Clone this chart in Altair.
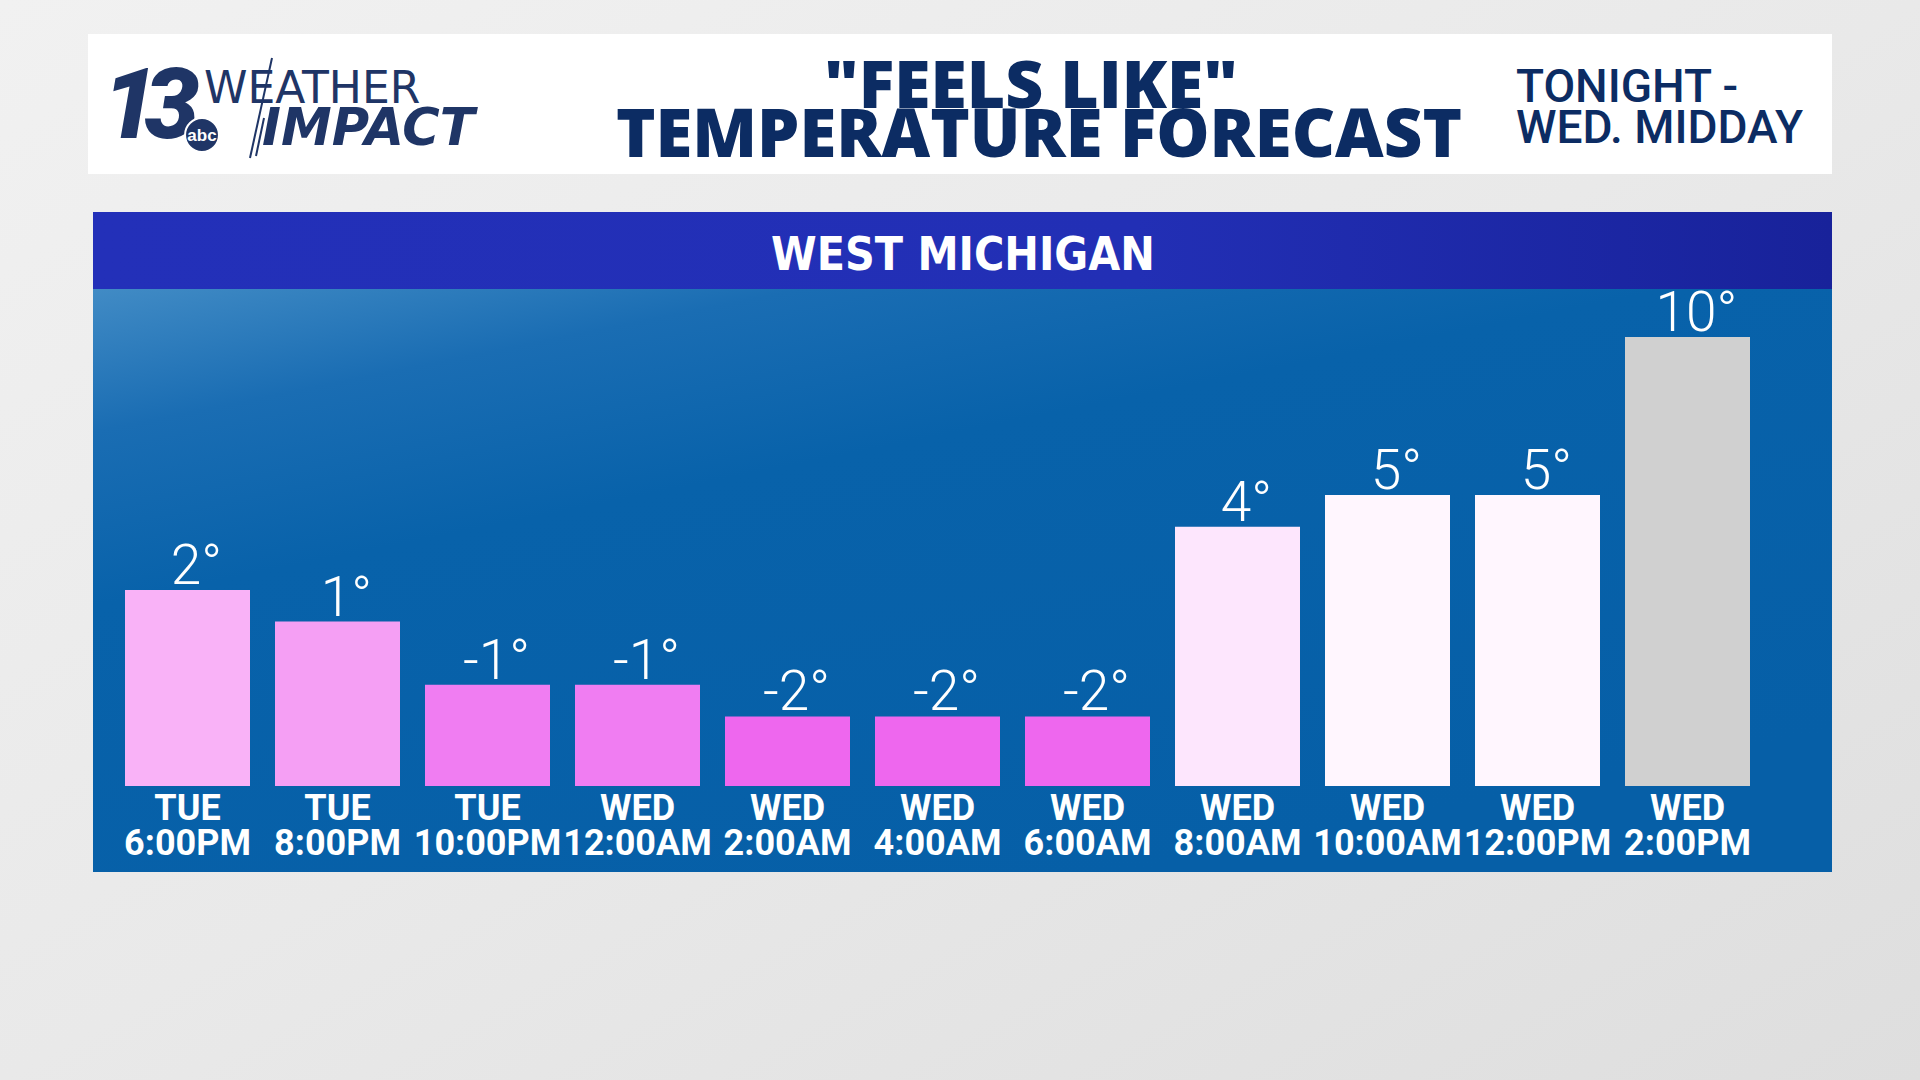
import altair as alt
import pandas as pd

# Forecast slots and "feels like" temperatures (°F)
days = ["TUE", "TUE", "TUE", "WED", "WED", "WED", "WED", "WED", "WED", "WED", "WED"]
times = ["6:00PM", "8:00PM", "10:00PM", "12:00AM", "2:00AM", "4:00AM",
         "6:00AM", "8:00AM", "10:00AM", "12:00PM", "2:00PM"]
feels_like = [2, 1, -1, -1, -2, -2, -2, 4, 5, 5, 10]
bar_colors = ["#f9b2f7", "#f59ff4", "#f07df2", "#f07df2", "#ee67ee", "#ee67ee",
              "#ee67ee", "#fde6fd", "#fff6fe", "#fff6fe", "#d0d0d0"]

df = pd.DataFrame({
    "slot": [f"{d}\n{t}" for d, t in zip(days, times)],
    "temp": feels_like,
    "fill": bar_colors,
})
df["label"] = df["temp"].astype(str) + "°"

W, H = 1920, 1080
NAVY = "#0c2c63"
one = alt.Data(values=[{}])

x_scale = alt.Scale(range=[112.5, 1762.5], paddingInner=25 / 150, paddingOuter=25 / 300)
y_scale = alt.Scale(domain=[-4.2, 10], range=[786, 337], nice=False, zero=False)
x_enc = alt.X("slot:N", sort=None, scale=x_scale, axis=None)


def box(x0, x1, y0, y1, color):
    return alt.Chart(one).mark_rect(color=color).encode(
        x=alt.value(x0), x2=alt.value(x1), y=alt.value(y0), y2=alt.value(y1))


def label(text, x, y, size, weight="normal", font="Roboto", color=NAVY,
          align="center", style="normal"):
    return alt.Chart(one).mark_text(
        text=text, fontSize=size, fontWeight=weight, font=font, color=color,
        align=align, baseline="alphabetic", fontStyle=style,
    ).encode(x=alt.value(x), y=alt.value(y))


background = box(0, W, 0, H, alt.Gradient(
    gradient="linear", x1=0, y1=0, x2=1, y2=1,
    stops=[alt.GradientStop(color="#f1f1f1", offset=0),
           alt.GradientStop(color="#e9e9e9", offset=0.5),
           alt.GradientStop(color="#dedede", offset=1)]))

header = box(88, 1832, 34, 174, "#ffffff")

panel = box(93, 1832, 289, 872, alt.Gradient(
    gradient="linear", x1=0, y1=0, x2=0.6, y2=1,
    stops=[alt.GradientStop(color="#418bc5", offset=0),
           alt.GradientStop(color="#1a6db3", offset=0.18),
           alt.GradientStop(color="#0862aa", offset=0.4),
           alt.GradientStop(color="#065fa7", offset=1)]))

title_bar = box(93, 1832, 212, 289, alt.Gradient(
    gradient="linear", x1=0, y1=0, x2=1, y2=0,
    stops=[alt.GradientStop(color="#2330b9", offset=0),
           alt.GradientStop(color="#222fb5", offset=0.6),
           alt.GradientStop(color="#18229a", offset=1)]))

bars = alt.Chart(df).mark_bar().encode(
    x=x_enc,
    y=alt.Y("temp:Q", scale=y_scale, axis=None),
    y2=alt.datum(-4.2),
    color=alt.Color("fill:N", scale=None),
)

values = alt.Chart(df).mark_text(
    font="Roboto", fontWeight=300, fontSize=55, color="white",
    baseline="alphabetic", dy=-6, dx=9,
).encode(x=x_enc, y=alt.Y("temp:Q", scale=y_scale), text="label:N")

slots = alt.Chart(df).mark_text(
    font="Roboto", fontWeight="bold", fontSize=36, color="white",
    baseline="alphabetic", lineBreak="\n", lineHeight=35,
).encode(x=x_enc, y=alt.value(820), text="slot:N")

region = label("WEST MICHIGAN", 963, 270, 46, "bold",
               font="DejaVu Sans Condensed, sans-serif", color="white")

title1 = label('"FEELS LIKE"', 1031, 108, 66, 800, font="Open Sans")
title2 = label("TEMPERATURE FORECAST", 1039, 157, 67, 800, font="Open Sans")
period1 = label("TONIGHT -", 1516, 102, 46, 500, align="left")
period2 = label("WED. MIDDAY", 1516, 143, 46, 500, align="left")

LOGO = "#1f3566"
logo1 = label("1", 130, 138, 98, 900, color=LOGO, style="italic")
logo3 = label("3", 172, 138, 98, 900, color=LOGO, style="italic")
logo_weather = label("WEATHER", 204, 103, 44, "normal", font="DejaVu Sans",
                     color=LOGO, align="left")
logo_impact = label("IMPACT", 262, 145, 51, "bold", font="DejaVu Sans",
                    color=LOGO, align="left", style="italic")
logo_slash = alt.Chart(one).mark_rule(color=LOGO, strokeWidth=2).encode(
    x=alt.value(272), x2=alt.value(250), y=alt.value(58), y2=alt.value(158))
logo_slash2 = alt.Chart(one).mark_rule(color=LOGO, strokeWidth=2).encode(
    x=alt.value(264), x2=alt.value(256), y=alt.value(118), y2=alt.value(156))
abc_dot = alt.Chart(one).mark_circle(
    color=LOGO, opacity=1, size=1150, stroke="white", strokeWidth=2
).encode(x=alt.value(202), y=alt.value(135))
abc_text = label("abc", 202, 141, 17, "bold", font="Liberation Sans", color="white")

chart = alt.layer(
    background, header, panel, title_bar, bars, values, slots, region,
    title1, title2, period1, period2,
    logo_slash, logo_slash2, logo1, logo3, logo_weather, logo_impact, abc_dot, abc_text,
).properties(
    width=W, height=H,
    autosize=alt.AutoSizeParams(type="none"),
    padding=0,
).configure_view(stroke=None).configure(background="#e8e8e8")

chart.save("out.html", embed_options={"renderer": "svg", "actions": False})
